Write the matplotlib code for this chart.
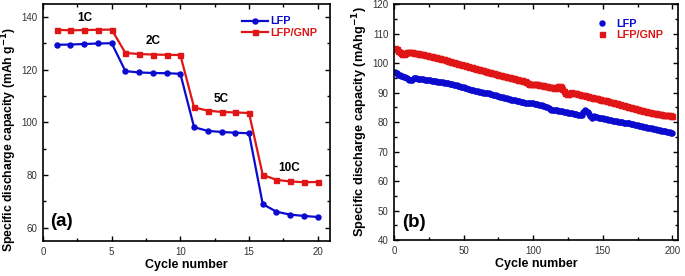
import matplotlib
matplotlib.use("Agg")
import matplotlib.pyplot as plt
from matplotlib.ticker import MultipleLocator

plt.rcParams['font.family'] = ['Liberation Sans', 'DejaVu Sans']

# ---------------- Panel (a): rate capability ----------------
cycles_a = list(range(1, 21))
lfp_a = [129.5, 129.6, 129.8, 130.0, 130.1, 119.5, 119.0, 118.8, 118.7, 118.5,
         98.2, 96.8, 96.4, 96.1, 95.9, 69.0, 66.1, 65.0, 64.5, 64.1]
gnp_a = [135.2, 135.0, 135.1, 135.2, 135.3, 126.4, 126.0, 125.8, 125.7, 125.6,
         105.7, 104.5, 104.0, 103.8, 103.6, 80.1, 78.2, 77.6, 77.3, 77.4]
rate_labels = ["1C", "2C", "5C", "10C"]
rate_label_x = [3.05, 8.0, 13.0, 17.95]
rate_label_y = [137.3, 128.6, 106.7, 80.5]

# ---------------- Panel (b): cycling at constant rate ----------------
cycles_b = list(range(1, 201))
lfp_b = [97.1, 96.6, 96.1, 95.8, 95.6, 95.5, 95.4, 95.3, 95.0, 94.6,
         94.3, 94.2, 94.4, 94.8, 95.0, 94.9, 94.6, 94.5, 94.6, 94.6,
         94.5, 94.4, 94.4, 94.3, 94.2, 94.1, 94.0, 93.9, 93.9, 93.8,
         93.7, 93.6, 93.6, 93.5, 93.4, 93.3, 93.3, 93.2, 93.1, 93.0,
         92.9, 92.8, 92.7, 92.6, 92.5, 92.3, 92.2, 92.0, 91.9, 91.7,
         91.6, 91.4, 91.3, 91.1, 91.0, 90.9, 90.8, 90.6, 90.5, 90.4,
         90.3, 90.2, 90.1, 90.0, 89.9, 89.9, 89.8, 89.7, 89.6, 89.5,
         89.3, 89.2, 89.0, 88.9, 88.8, 88.6, 88.5, 88.4, 88.2, 88.1,
         88.0, 87.9, 87.8, 87.6, 87.5, 87.4, 87.3, 87.2, 87.1, 87.0,
         86.9, 86.8, 86.7, 86.6, 86.6, 86.5, 86.5, 86.4, 86.4, 86.3,
         86.2, 86.1, 86.0, 85.9, 85.8, 85.6, 85.5, 85.3, 85.2, 85.0,
         84.6, 84.3, 84.2, 84.1, 84.1, 84.0, 84.0, 83.9, 83.8, 83.7,
         83.6, 83.5, 83.4, 83.3, 83.2, 83.1, 83.0, 82.9, 82.8, 82.7,
         82.6, 82.5, 82.4, 82.3, 82.4, 83.5, 84.0, 83.8, 83.4, 82.8,
         82.0, 81.4, 81.6, 81.9, 81.8, 81.6, 81.5, 81.4, 81.3, 81.2,
         81.1, 81.0, 80.9, 80.8, 80.7, 80.6, 80.5, 80.4, 80.3, 80.2,
         80.1, 80.0, 79.9, 79.9, 79.8, 79.7, 79.6, 79.5, 79.5, 79.4,
         79.3, 79.2, 79.1, 79.0, 78.9, 78.8, 78.7, 78.5, 78.4, 78.3,
         78.2, 78.1, 78.0, 77.9, 77.8, 77.7, 77.6, 77.5, 77.4, 77.3,
         77.2, 77.1, 77.0, 76.9, 76.8, 76.7, 76.6, 76.5, 76.4, 76.2]
gnp_b = [105.0, 104.6, 104.0, 103.6, 103.3, 103.2, 103.1, 103.3, 103.7, 103.8,
         103.8, 103.7, 103.6, 103.5, 103.5, 103.4, 103.3, 103.2, 103.1, 103.0,
         102.9, 102.8, 102.7, 102.6, 102.5, 102.4, 102.3, 102.2, 102.1, 102.0,
         101.8, 101.7, 101.6, 101.4, 101.3, 101.2, 101.0, 100.9, 100.8, 100.6,
         100.5, 100.4, 100.2, 100.1, 100.0, 99.8, 99.7, 99.6, 99.4, 99.3,
         99.2, 99.0, 98.9, 98.8, 98.6, 98.5, 98.4, 98.2, 98.1, 98.0,
         97.9, 97.7, 97.6, 97.5, 97.4, 97.2, 97.1, 97.0, 96.9, 96.7,
         96.6, 96.5, 96.4, 96.2, 96.1, 96.0, 95.9, 95.7, 95.6, 95.5,
         95.4, 95.3, 95.1, 95.0, 94.9, 94.8, 94.7, 94.6, 94.4, 94.3,
         94.2, 94.1, 94.0, 93.8, 93.5, 93.1, 92.9, 92.9, 93.0, 93.0,
         92.9, 92.9, 92.8, 92.7, 92.6, 92.5, 92.4, 92.3, 92.2, 92.1,
         92.0, 91.9, 91.8, 91.7, 91.5, 91.4, 91.7, 92.1, 92.2, 91.8,
         91.2, 90.5, 89.8, 89.4, 89.6, 90.0, 90.1, 90.0, 89.9, 89.8,
         89.7, 89.6, 89.4, 89.3, 89.2, 89.1, 89.0, 88.9, 88.8, 88.6,
         88.5, 88.4, 88.3, 88.2, 88.1, 88.0, 87.9, 87.7, 87.6, 87.5,
         87.4, 87.3, 87.2, 87.0, 86.9, 86.8, 86.7, 86.5, 86.4, 86.3,
         86.1, 86.0, 85.9, 85.7, 85.6, 85.5, 85.4, 85.2, 85.1, 85.0,
         84.8, 84.7, 84.6, 84.5, 84.3, 84.2, 84.1, 84.0, 83.8, 83.7,
         83.6, 83.5, 83.4, 83.3, 83.2, 83.1, 83.0, 82.9, 82.8, 82.7,
         82.6, 82.6, 82.5, 82.5, 82.4, 82.4, 82.3, 82.3, 82.2, 82.2]

BLUE = '#0b0bd0'
RED = '#e01515'

fig = plt.figure(figsize=(6.85, 2.76), dpi=100)
axa = fig.add_axes([0.0628, 0.127, 0.419, 0.8585])
axb = fig.add_axes([0.5752, 0.1304, 0.4146, 0.8551])

def style(ax):
    for s in ax.spines.values():
        s.set_linewidth(1.2)
    ax.tick_params(which='both', direction='in', top=True, right=True,
                   labelsize=7, labelcolor='#333333', width=1.0, pad=4)
    ax.tick_params(which='major', length=3.5)
    ax.tick_params(which='minor', length=2.0)

# Panel (a)
axa.plot(cycles_a, lfp_a, '-o', color=BLUE, lw=1.6, ms=3.6, label='LFP')
axa.plot(cycles_a, gnp_a, '-s', color=RED, lw=1.6, ms=3.6, label='LFP/GNP')
axa.set_xlim(0, 20.9)
axa.set_ylim(55, 145)
axa.xaxis.set_major_locator(MultipleLocator(5))
axa.xaxis.set_minor_locator(MultipleLocator(2.5))
axa.yaxis.set_major_locator(MultipleLocator(20))
axa.yaxis.set_minor_locator(MultipleLocator(10))
style(axa)
for t, x, y in zip(rate_labels, rate_label_x, rate_label_y):
    axa.text(x, y, t, fontsize=8.5, fontweight='bold', ha='center', va='bottom')
axa.text(0.025, 0.045, '(a)', transform=axa.transAxes, fontsize=13.5,
         fontweight='bold', ha='left', va='bottom')
axa.set_xlabel('Cycle number', fontsize=9, fontweight='bold', labelpad=2)
axa.set_ylabel('Specific discharge capacity (mAh g$^{\\mathbf{-1}}$)', fontsize=8.8,
               fontweight='bold')
axa.yaxis.set_label_coords(-0.082, 0.43)
leg = axa.legend(loc='upper right', frameon=False,
                 prop={'weight': 'bold', 'size': 7.8}, handlelength=2.4,
                 handletextpad=0.2, labelspacing=0.15, borderaxespad=0.75)
for txt, c in zip(leg.get_texts(), [BLUE, RED]):
    txt.set_color(c)

# Panel (b)
axb.plot(cycles_b, lfp_b, 'o', color=BLUE, ms=3.6, label='LFP', linestyle='none')
axb.plot(cycles_b, gnp_b, 's', color=RED, ms=3.6, label='LFP/GNP', linestyle='none')
axb.set_xlim(0, 204)
axb.set_ylim(40, 120)
axb.xaxis.set_major_locator(MultipleLocator(50))
axb.xaxis.set_minor_locator(MultipleLocator(25))
axb.yaxis.set_major_locator(MultipleLocator(10))
axb.yaxis.set_minor_locator(MultipleLocator(5))
style(axb)
axb.text(0.03, 0.04, '(b)', transform=axb.transAxes, fontsize=13.5,
         fontweight='bold', ha='left', va='bottom')
axb.set_xlabel('Cycle number', fontsize=9, fontweight='bold', labelpad=2)
axb.set_ylabel('Specific discharge capacity (mAhg$^{\\mathbf{-1}}$)', fontsize=9.2,
               fontweight='bold', labelpad=2)
legb = axb.legend(loc='upper right', frameon=False,
                  prop={'weight': 'bold', 'size': 7.8}, handlelength=1.5,
                  handletextpad=0.6, labelspacing=0.15, borderaxespad=0.95,
                  markerscale=1.0)
for txt, c in zip(legb.get_texts(), [BLUE, RED]):
    txt.set_color(c)

fig.savefig('out.png', dpi=100)
